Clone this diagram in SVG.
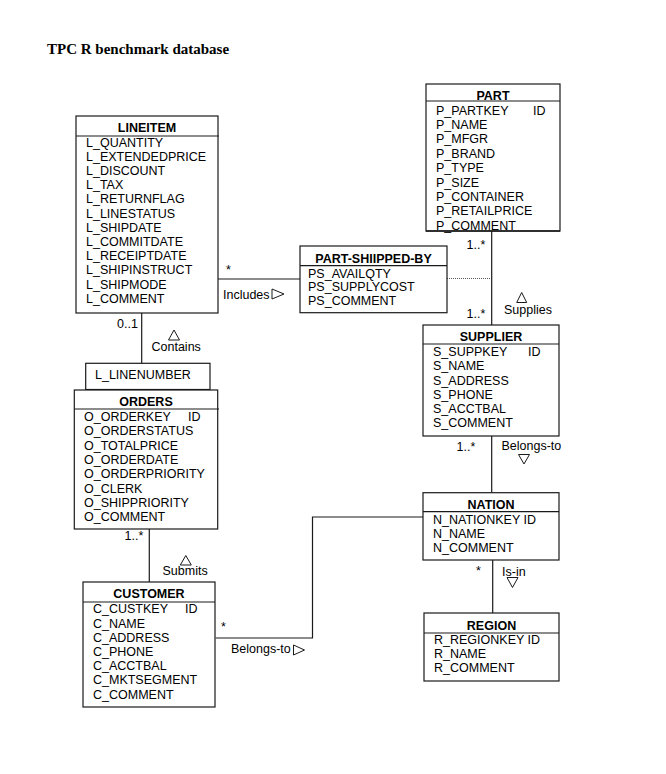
<svg xmlns="http://www.w3.org/2000/svg" width="666" height="774" viewBox="0 0 666 774">
<style>
.box{fill:#fff;stroke:#1a1a1a;stroke-width:1.2}
.sep{stroke:#1a1a1a;stroke-width:1.2}
.ln{fill:none;stroke:#1a1a1a;stroke-width:1.2}
.dot{fill:none;stroke:#555;stroke-width:1;stroke-dasharray:1,1}
.tri{fill:#fff;stroke:#1a1a1a;stroke-width:1}
text{font-family:"Liberation Sans",Arial,sans-serif;font-size:12.5px;fill:#000}
.h{font-weight:bold;text-anchor:middle}
.title{font-family:"Liberation Serif","Times New Roman",serif;font-size:15px;font-weight:bold}
</style>
<rect width="666" height="774" fill="#fff"/>
<text class="title" x="47" y="54">TPC R benchmark database</text>

<g id="connectors">
<line class="ln" x1="218" y1="279" x2="300" y2="279"/>
<line class="dot" x1="447" y1="278.5" x2="491.7" y2="278.5"/>
<line class="ln" x1="491.7" y1="231" x2="491.7" y2="325"/>
<line class="ln" x1="491.7" y1="436" x2="491.7" y2="492.7"/>
<line class="ln" x1="492.7" y1="560" x2="492.7" y2="613"/>
<line class="ln" x1="141.7" y1="313" x2="141.7" y2="363.3"/>
<line class="ln" x1="149.3" y1="529" x2="149.3" y2="582"/>
<polyline class="ln" points="215.7,638 312.5,638 312.5,517 423,517"/>
<text x="226" y="274">*</text>
<text x="223" y="299">Includes</text>
<polygon class="tri" points="272,289 284,294 272,299"/>
<text x="466.5" y="249">1..*</text>
<text x="466.5" y="317.5">1..*</text>
<polygon class="tri" points="521.7,292.5 526.7,302.5 516.7,302.5"/>
<text x="504" y="314">Supplies</text>
<text x="456.5" y="451">1..*</text>
<text x="501.5" y="450">Belongs-to</text>
<polygon class="tri" points="518.5,454.5 529.5,454.5 524,464"/>
<text x="476" y="575">*</text>
<text x="502" y="576">Is-in</text>
<polygon class="tri" points="507,577.5 518,577.5 512.5,587.5"/>
<text x="117" y="328">0..1</text>
<polygon class="tri" points="174,330 179.5,340 168.5,340"/>
<text x="151.5" y="351">Contains</text>
<text x="124.5" y="540">1..*</text>
<polygon class="tri" points="185.8,555.5 191.3,565 180.3,565"/>
<text x="162.5" y="575">Submits</text>
<text x="221" y="631">*</text>
<text x="231" y="653">Belongs-to</text>
<polygon class="tri" points="293.5,645 304.5,650 293.5,655"/>
</g>

<g id="lineitem">
<rect class="box" x="76" y="116" width="142" height="197"/>
<line class="sep" x1="76" y1="136" x2="219" y2="136"/>
<text class="h" x="147" y="132">LINEITEM</text>
<text x="86" y="146.5">L_QUANTITY</text>
<text x="86" y="160.7">L_EXTENDEDPRICE</text>
<text x="86" y="174.9">L_DISCOUNT</text>
<text x="86" y="189.1">L_TAX</text>
<text x="86" y="203.3">L_RETURNFLAG</text>
<text x="86" y="217.5">L_LINESTATUS</text>
<text x="86" y="231.7">L_SHIPDATE</text>
<text x="86" y="245.9">L_COMMITDATE</text>
<text x="86" y="260.1">L_RECEIPTDATE</text>
<text x="86" y="274.3">L_SHIPINSTRUCT</text>
<text x="86" y="288.5">L_SHIPMODE</text>
<text x="86" y="302.7">L_COMMENT</text>
</g>

<g id="part">
<rect class="box" x="426" y="84" width="134" height="147"/>
<line class="sep" x1="426" y1="101" x2="560" y2="101"/>
<text class="h" x="493" y="99.5">PART</text>
<text x="436" y="114.5">P_PARTKEY</text>
<text x="533" y="114.5">ID</text>
<text x="436" y="128.9">P_NAME</text>
<text x="436" y="143.3">P_MFGR</text>
<text x="436" y="157.7">P_BRAND</text>
<text x="436" y="172.1">P_TYPE</text>
<text x="436" y="186.5">P_SIZE</text>
<text x="436" y="200.9">P_CONTAINER</text>
<text x="436" y="215.3">P_RETAILPRICE</text>
<text x="436" y="229.5">P_COMMENT</text>
<line class="sep" x1="426" y1="231" x2="560" y2="231" style="stroke-width:1.6"/>
</g>

<g id="partsupp">
<rect class="box" x="300" y="246" width="147" height="66.7"/>
<line class="sep" x1="300" y1="265.7" x2="447" y2="265.7"/>
<text class="h" x="373.5" y="263">PART-SHIIPPED-BY</text>
<text x="308" y="277.7">PS_AVAILQTY</text>
<text x="308" y="291.3">PS_SUPPLYCOST</text>
<text x="308" y="305.3">PS_COMMENT</text>
</g>

<g id="supplier">
<rect class="box" x="423" y="325" width="136" height="111"/>
<line class="sep" x1="423" y1="344" x2="559" y2="344"/>
<text class="h" x="491" y="341">SUPPLIER</text>
<text x="433" y="356.3">S_SUPPKEY</text>
<text x="528" y="356.3">ID</text>
<text x="433" y="370.4">S_NAME</text>
<text x="433" y="384.5">S_ADDRESS</text>
<text x="433" y="398.6">S_PHONE</text>
<text x="433" y="412.7">S_ACCTBAL</text>
<text x="433" y="426.8">S_COMMENT</text>
</g>

<g id="linenumber">
<rect class="box" x="85.7" y="363.3" width="124.3" height="26.2"/>
<text x="95" y="379">L_LINENUMBER</text>
</g>

<g id="orders">
<rect class="box" x="74.3" y="390" width="143.4" height="139"/>
<line class="sep" x1="74.3" y1="409" x2="219" y2="409"/>
<text class="h" x="146" y="406">ORDERS</text>
<text x="84" y="421">O_ORDERKEY</text>
<text x="188" y="421">ID</text>
<text x="84" y="435.3">O_ORDERSTATUS</text>
<text x="84" y="449.6">O_TOTALPRICE</text>
<text x="84" y="463.9">O_ORDERDATE</text>
<text x="84" y="478.2">O_ORDERPRIORITY</text>
<text x="84" y="492.5">O_CLERK</text>
<text x="84" y="506.8">O_SHIPPRIORITY</text>
<text x="84" y="521.1">O_COMMENT</text>
</g>

<g id="customer">
<rect class="box" x="83" y="582" width="132" height="125"/>
<line class="sep" x1="83" y1="602" x2="215" y2="602"/>
<text class="h" x="149" y="598">CUSTOMER</text>
<text x="93" y="613.3">C_CUSTKEY</text>
<text x="185" y="613.3">ID</text>
<text x="93" y="627.5">C_NAME</text>
<text x="93" y="641.7">C_ADDRESS</text>
<text x="93" y="655.9">C_PHONE</text>
<text x="93" y="670.1">C_ACCTBAL</text>
<text x="93" y="684.3">C_MKTSEGMENT</text>
<text x="93" y="698.5">C_COMMENT</text>
</g>

<g id="nation">
<rect class="box" x="423" y="492.7" width="136" height="67.3"/>
<line class="sep" x1="423" y1="511.7" x2="559" y2="511.7"/>
<text class="h" x="491" y="509.3">NATION</text>
<text x="433" y="523.5">N_NATIONKEY ID</text>
<text x="433" y="537.6">N_NAME</text>
<text x="433" y="551.7">N_COMMENT</text>
</g>

<g id="region">
<rect class="box" x="424" y="613" width="135" height="68"/>
<line class="sep" x1="424" y1="633" x2="559" y2="633"/>
<text class="h" x="491.5" y="630">REGION</text>
<text x="434" y="644">R_REGIONKEY ID</text>
<text x="434" y="658">R_NAME</text>
<text x="434" y="672">R_COMMENT</text>
</g>
</svg>
